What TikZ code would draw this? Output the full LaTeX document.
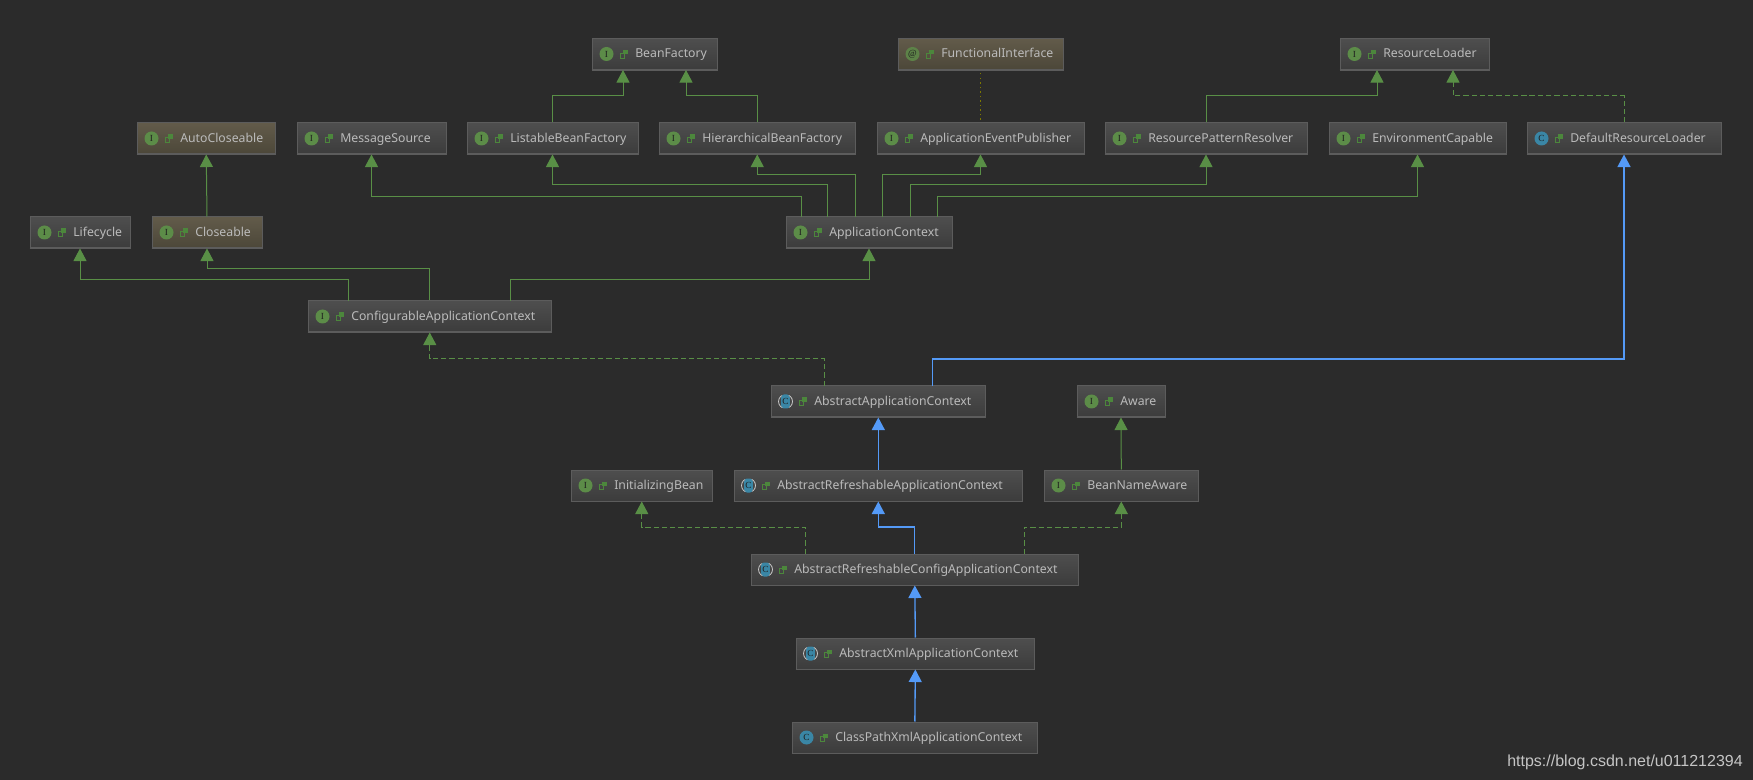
\documentclass[tikz,border=0pt]{standalone}
\usepackage{fontspec}
\setmainfont{Noto Sans}
\newfontfamily\markfont{Liberation Serif}
\newfontfamily\waterfont{Liberation Sans}
\usetikzlibrary{arrows.meta,calc}
\definecolor{BgDark}{RGB}{43,43,43}
\definecolor{BoxTop}{RGB}{78,78,78}
\definecolor{BoxBottom}{RGB}{60,60,60}
\definecolor{BoxEdge}{RGB}{92,92,92}
\definecolor{LibTop}{RGB}{98,91,74}
\definecolor{LibBottom}{RGB}{76,71,57}
\definecolor{LabelGrey}{RGB}{187,187,187}
\definecolor{GreenLink}{RGB}{89,143,70}
\definecolor{BlueLink}{RGB}{84,154,247}
\definecolor{OliveDot}{RGB}{125,120,0}
\definecolor{IfaceIcon}{RGB}{92,140,72}
\definecolor{ClassIcon}{RGB}{58,134,165}
\definecolor{LockGreen}{RGB}{76,135,60}
\tikzset{
  plainbox/.style={draw=BoxEdge,line width=0.75pt,top color=BoxTop,bottom color=BoxBottom,minimum height=23.25pt,inner sep=0pt},
  libbox/.style={draw=BoxEdge,line width=0.75pt,top color=LibTop,bottom color=LibBottom,minimum height=23.25pt,inner sep=0pt},
  boxbase/.style={draw=BoxEdge,line width=1.4pt},
  boxtext/.style={anchor=base west,inner sep=0pt,text=LabelGrey,font=\fontsize{9.2pt}{11pt}\selectfont},
  iconbase/.style={circle,minimum size=10.5pt,inner sep=0pt,text=BgDark!70!black,font=\markfont\fontsize{7pt}{7pt}\selectfont},
  ifaceicon/.style={iconbase,fill=IfaceIcon,node contents={I}},
  annoicon/.style={iconbase,fill=IfaceIcon!80!LibTop,node contents={@}},
  classicon/.style={iconbase,fill=ClassIcon,node contents={C}},
  abstracticon/.style={iconbase,rectangle,rounded corners=2pt,minimum width=6.4pt,minimum height=10.5pt,fill=ClassIcon,node contents={C}},
  absring/.style={circle,minimum size=10.5pt,inner sep=0pt,draw=LabelGrey!80,line width=0.6pt,dash pattern=on 11pt off 5.5pt,dash phase=5.5pt},
  extline/.style={draw=GreenLink,line width=0.75pt,-{Triangle[length=9.4pt,width=9.75pt,fill=GreenLink]}},
  impline/.style={extline,dash pattern=on 4pt off 2.2pt},
  blueline/.style={draw=BlueLink,line width=1pt,-{Triangle[length=9.4pt,width=9.75pt,fill=BlueLink]}},
  lockpic/.pic={
    \draw [LockGreen,line width=0.6pt] (-4,1) rectangle (0,-4);
    \fill [LockGreen] (-1.5,-0.5) rectangle (4,4);
  }
}
% name, box style, icon style, left, right, middle, label
\newcommand{\umlclass}[7]{
  \node (#1) [#2,minimum width={(#5-#4)*0.75pt}] at ({(#4+#5)/2},#6) {};
  \draw [boxbase] (#1.south west) -- (#1.south east);
  \node (#1Icon) at ({#4+14.5},#6) [#3];
  \pic at ({#4+32},#6) {lockpic};
  \node (#1Label) [boxtext] at ({#4+43},{#6+4}) {#7};
}

\begin{document}
\begin{tikzpicture}[x=0.75pt,y=0.75pt,yscale=-1,xscale=1]
\useasboundingbox (0,0) rectangle (1753,780);
\fill [BgDark] (0,0) rectangle (1753,780);

%Top row
\umlclass{BeanFactory}{plainbox}{ifaceicon}{592}{717}{54}{BeanFactory}
\umlclass{FunctionalInterface}{libbox}{annoicon}{898}{1063}{54}{FunctionalInterface}
\umlclass{ResourceLoader}{plainbox}{ifaceicon}{1340}{1489}{54}{ResourceLoader}
%Second row
\umlclass{AutoCloseable}{libbox}{ifaceicon}{137}{275.5}{138.5}{AutoCloseable}
\umlclass{MessageSource}{plainbox}{ifaceicon}{297}{446}{138.5}{MessageSource}
\umlclass{ListableBeanFactory}{plainbox}{ifaceicon}{467}{638}{138.5}{ListableBeanFactory}
\umlclass{HierarchicalBeanFactory}{plainbox}{ifaceicon}{659}{855.5}{138.5}{HierarchicalBeanFactory}
\umlclass{ApplicationEventPublisher}{plainbox}{ifaceicon}{877}{1084}{138.5}{ApplicationEventPublisher}
\umlclass{ResourcePatternResolver}{plainbox}{ifaceicon}{1105}{1307}{138.5}{ResourcePatternResolver}
\umlclass{EnvironmentCapable}{plainbox}{ifaceicon}{1329}{1506}{138.5}{EnvironmentCapable}
\umlclass{DefaultResourceLoader}{plainbox}{classicon}{1527}{1721}{138.5}{DefaultResourceLoader}
%Third row
\umlclass{Lifecycle}{plainbox}{ifaceicon}{30}{130}{232.5}{Lifecycle}
\umlclass{Closeable}{libbox}{ifaceicon}{152}{262}{232.5}{Closeable}
\umlclass{ApplicationContext}{plainbox}{ifaceicon}{786}{952}{232.5}{ApplicationContext}
\umlclass{ConfigurableApplicationContext}{plainbox}{ifaceicon}{308}{551.5}{316.5}{ConfigurableApplicationContext}
%Lower part
\umlclass{AbstractApplicationContext}{plainbox}{abstracticon}{771}{985.6}{401.5}{AbstractApplicationContext}
\umlclass{Aware}{plainbox}{ifaceicon}{1077}{1165}{401.5}{Aware}
\umlclass{InitializingBean}{plainbox}{ifaceicon}{571}{712.5}{485.5}{InitializingBean}
\umlclass{AbstractRefreshableApplicationContext}{plainbox}{abstracticon}{734}{1022.6}{485.5}{AbstractRefreshableApplicationContext}
\umlclass{BeanNameAware}{plainbox}{ifaceicon}{1044}{1198.6}{485.5}{BeanNameAware}
\umlclass{AbstractRefreshableConfigApplicationContext}{plainbox}{abstracticon}{751}{1078.6}{569.5}{AbstractRefreshableConfigApplicationContext}
\umlclass{AbstractXmlApplicationContext}{plainbox}{abstracticon}{796}{1034.7}{653.5}{AbstractXmlApplicationContext}
\umlclass{ClassPathXmlApplicationContext}{plainbox}{classicon}{792}{1037.7}{737.5}{ClassPathXmlApplicationContext}

%Abstract icon rings
\node (AbstractApplicationContextRing) [absring] at (AbstractApplicationContextIcon) {};
\node (AbstractRefreshableApplicationContextRing) [absring] at (AbstractRefreshableApplicationContextIcon) {};
\node (AbstractRefreshableConfigApplicationContextRing) [absring] at (AbstractRefreshableConfigApplicationContextIcon) {};
\node (AbstractXmlApplicationContextRing) [absring] at (AbstractXmlApplicationContextIcon) {};

%Ports
\coordinate (BeanFactoryL) at (623,70);
\coordinate (BeanFactoryR) at (686,70);
\coordinate (ResourceLoaderL) at (1377,70);
\coordinate (ResourceLoaderR) at (1453,70);
\coordinate (ContextMessage) at (801,217);
\coordinate (ContextListable) at (827.6,217);
\coordinate (ContextHierarchical) at (855.5,217);
\coordinate (ContextPublisher) at (882,217);
\coordinate (ContextResolver) at (910,217);
\coordinate (ContextEnvironment) at (937,217);
\coordinate (ConfigurableLifecycle) at (348,301);
\coordinate (ConfigurableContext) at (510.5,301);
\coordinate (AbstractConfigurable) at (824.4,386);
\coordinate (AbstractDefault) at (932.6,386);
\coordinate (ConfigInitializing) at (805.5,554);
\coordinate (ConfigAware) at (1024.3,554);

%Straight Lines
\draw [extline] (ListableBeanFactory.north) -- (ListableBeanFactory.north |- 0,96) -| (BeanFactoryL);
\draw [extline] (HierarchicalBeanFactory.north) -- (HierarchicalBeanFactory.north |- 0,96) -| (BeanFactoryR);
\draw [draw=OliveDot,line width=0.75pt,dash pattern=on 1pt off 2.4pt,shorten <=2pt,shorten >=1pt] (ApplicationEventPublisher.north) -- (FunctionalInterface.south);
\draw [extline] (ResourcePatternResolver.north) -- (ResourcePatternResolver.north |- 0,96) -| (ResourceLoaderL);
\draw [impline] (DefaultResourceLoader.north) -- (DefaultResourceLoader.north |- 0,96) -| (ResourceLoaderR);
\draw [extline] (Closeable.north) -- (AutoCloseable.south);
\draw [extline] (ContextMessage) -- (ContextMessage |- 0,197) -| (MessageSource.south);
\draw [extline] (ContextListable) -- (ContextListable |- 0,185) -| (ListableBeanFactory.south);
\draw [extline] (ContextHierarchical) -- (ContextHierarchical |- 0,175) -| (HierarchicalBeanFactory.south);
\draw [extline] (ContextPublisher) -- (ContextPublisher |- 0,175) -| (ApplicationEventPublisher.south);
\draw [extline] (ContextResolver) -- (ContextResolver |- 0,185) -| (ResourcePatternResolver.south);
\draw [extline] (ContextEnvironment) -- (ContextEnvironment |- 0,197) -| (EnvironmentCapable.south);
\draw [extline] (ConfigurableLifecycle) -- (ConfigurableLifecycle |- 0,280) -| (Lifecycle.south);
\draw [extline] (ConfigurableApplicationContext.north) -- (ConfigurableApplicationContext.north |- 0,269) -| (Closeable.south);
\draw [extline] (ConfigurableContext) -- (ConfigurableContext |- 0,280) -| (ApplicationContext.south);
\draw [impline] (AbstractConfigurable) -- (AbstractConfigurable |- 0,359) -| (ConfigurableApplicationContext.south);
\draw [blueline] (AbstractDefault) -- (AbstractDefault |- 0,359) -| (DefaultResourceLoader.south);
\draw [blueline] (AbstractRefreshableApplicationContext.north) -- (AbstractApplicationContext.south);
\draw [extline] (BeanNameAware.north) -- (Aware.south);
\draw [impline] (ConfigInitializing) -- (ConfigInitializing |- 0,527) -| (InitializingBean.south);
\draw [blueline] (AbstractRefreshableConfigApplicationContext.north) -- (AbstractRefreshableConfigApplicationContext.north |- 0,527) -| (AbstractRefreshableApplicationContext.south);
\draw [impline] (ConfigAware) -- (ConfigAware |- 0,527) -| (BeanNameAware.south);
\draw [blueline] (AbstractXmlApplicationContext.north) -- (AbstractRefreshableConfigApplicationContext.south);
\draw [blueline] (ClassPathXmlApplicationContext.north) -- (AbstractXmlApplicationContext.south);

% Text Node
\node (Watermark) [anchor=base east,inner sep=0pt,text=LabelGrey!85,font=\waterfont\fontsize{12pt}{14pt}\selectfont] at (1743,766) {https://blog.csdn.net/u011212394};

\end{tikzpicture}
\end{document}
